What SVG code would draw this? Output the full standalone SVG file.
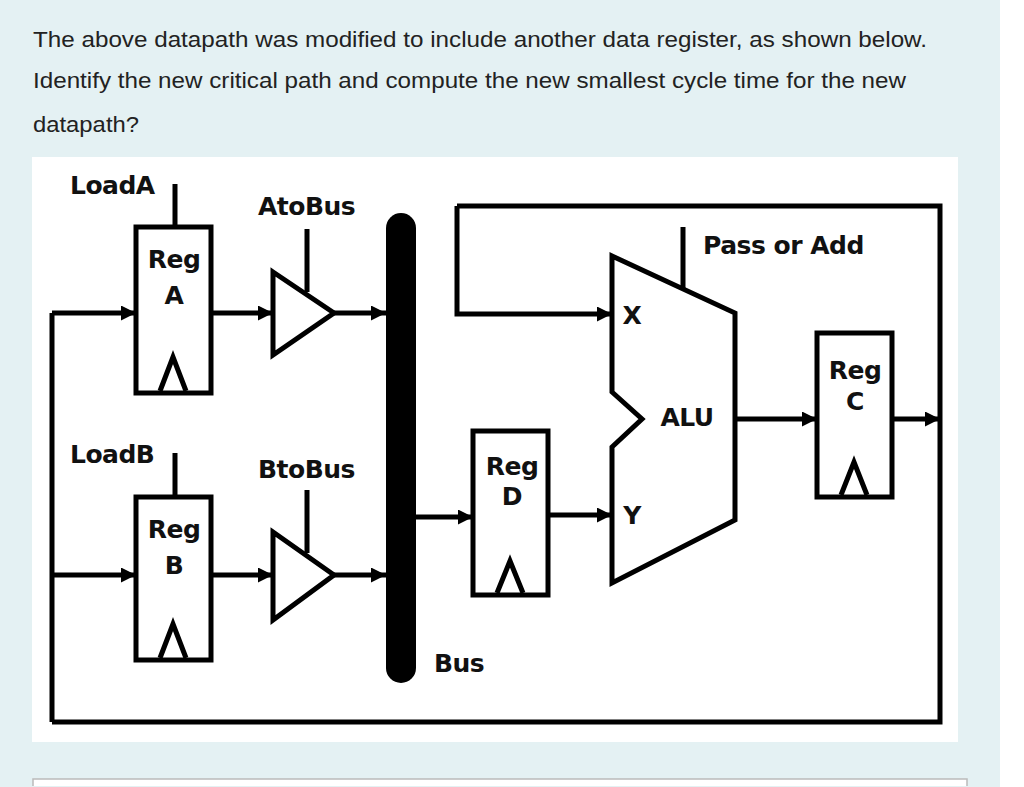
<svg xmlns="http://www.w3.org/2000/svg" width="1024" height="787" viewBox="0 0 1024 787">
<defs>
<marker id="ah" viewBox="0 0 10 10" refX="10" refY="5" markerWidth="3" markerHeight="3" orient="auto" markerUnits="strokeWidth"><path d="M0,0L10,5L0,10z" fill="#000"/></marker>
<style>
.q{font-family:"Liberation Sans",Arial,sans-serif;font-size:22px;fill:#222}
.l{font-family:"DejaVu Sans",Verdana,sans-serif;font-weight:bold;font-size:25px;letter-spacing:-0.5px;fill:#111}
.s{fill:none;stroke:#000;stroke-width:5;stroke-linejoin:miter}
.w{fill:#fff;stroke:#000;stroke-width:5}
.c{stroke:#000;stroke-width:5;fill:none;marker-end:url(#ah)}
</style>
</defs>
<rect width="1024" height="787" fill="#fff"/>
<rect x="0" y="0" width="1000" height="787" fill="#e4f1f3"/>
<text class="q" x="33" y="47" textLength="894" lengthAdjust="spacingAndGlyphs">The above datapath was modified to include another data register, as shown below.</text>
<text class="q" x="33" y="88" textLength="873" lengthAdjust="spacingAndGlyphs">Identify the new critical path and compute the new smallest cycle time for the new</text>
<text class="q" x="33" y="132" textLength="106" lengthAdjust="spacingAndGlyphs">datapath?</text>
<rect x="32" y="157" width="926" height="585" fill="#fff"/>
<path d="M33,786V779H967V786" fill="#fff" stroke="#bbb" stroke-width="1.5"/>
<g id="connectors">
<path class="s" d="M52,722V313"/>
<path class="c" d="M52,313H136"/>
<path class="c" d="M52,575H136"/>
<path class="c" d="M211,313H273"/>
<path class="c" d="M211,575H273"/>
<path class="c" d="M334,313H386"/>
<path class="c" d="M334,575H386"/>
<path class="c" d="M416,517H473"/>
<path class="c" d="M548,515H612"/>
<path class="c" d="M457,206V314H612"/>
<path class="s" d="M457,206H940V722H52"/>
<path class="c" d="M735,419H817"/>
<path class="c" d="M892,419H940"/>
<path class="s" d="M175,184V227M175,453V497M307,229V292M307,490V553M683,227V290"/>
</g>
<g id="regA"><rect class="w" x="136" y="227" width="75" height="166"/><path class="s" d="M160,391L173,357L186,391"/><text class="l" x="174" y="268" text-anchor="middle">Reg</text><text class="l" x="174" y="304" text-anchor="middle">A</text></g>
<g id="loadA"><text class="l" x="70" y="194">LoadA</text></g>
<g id="regB"><rect class="w" x="136" y="497" width="75" height="163"/><path class="s" d="M160,658L173,624L186,658"/><text class="l" x="174" y="538" text-anchor="middle">Reg</text><text class="l" x="174" y="574" text-anchor="middle">B</text></g>
<g id="loadB"><text class="l" x="70" y="463">LoadB</text></g>
<g id="bufA"><path class="w" d="M273,272L334,313L273,355z"/><text class="l" x="258" y="215">AtoBus</text></g>
<g id="bufB"><path class="w" d="M273,532L334,575L273,620z"/><text class="l" x="258" y="478">BtoBus</text></g>
<g id="bus"><rect x="386" y="213" width="30" height="470" rx="15" fill="#000"/><text class="l" x="434" y="672">Bus</text></g>
<g id="regD"><rect class="w" x="473" y="431" width="75" height="164"/><path class="s" d="M497,593L510,561L523,593"/><text class="l" x="512" y="475" text-anchor="middle">Reg</text><text class="l" x="512" y="505" text-anchor="middle">D</text></g>
<g id="alu"><path class="w" d="M612,256L735,313V520L612,583V447L642,419L612,392z"/><text class="l" x="687" y="426" text-anchor="middle">ALU</text><text class="l" x="632" y="324" text-anchor="middle">X</text><text class="l" x="632" y="524" text-anchor="middle">Y</text><text class="l" x="703" y="254">Pass or Add</text></g>
<g id="regC"><rect class="w" x="817" y="333" width="75" height="164"/><path class="s" d="M841,495L854,462L867,495"/><text class="l" x="855" y="379" text-anchor="middle">Reg</text><text class="l" x="855" y="410" text-anchor="middle">C</text></g>
</svg>
